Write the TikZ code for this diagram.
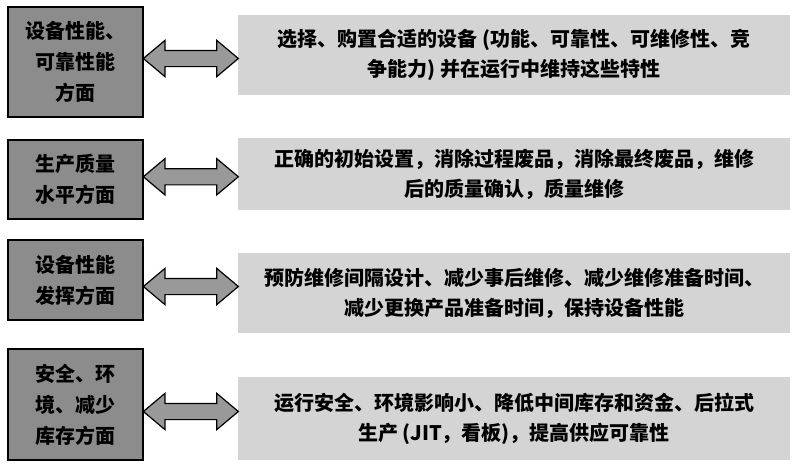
\documentclass[tikz,border=0pt]{standalone}
\usepackage{fontspec}
\setmainfont{Noto Sans CJK SC}
\usetikzlibrary{shapes.arrows}

\begin{document}
\begin{tikzpicture}[
  x=1pt, y=-1pt,
  aspect/.style={rectangle, draw, line width=1.8pt, fill=black!45, minimum width=135pt, align=center, font=\fontsize{20}{31}\selectfont\bfseries},
  measure/.style={rectangle, fill=black!17, minimum width=552pt, align=center, font=\fontsize{20}{30}\selectfont\bfseries},
  link/.style={double arrow, draw, line width=1.2pt, fill=black!40, inner xsep=0pt, inner ysep=7.5pt, minimum width=35pt, minimum height=95pt, double arrow head extend=10pt, double arrow tip angle=80}
]
\useasboundingbox (0,0) rectangle (800,471);

% Row 1 - equipment and reliability
\node[aspect, minimum height=110pt] (Equip) at (75.5,62) {设备性能、\\可靠性能\\方面};
\node[measure, minimum height=80pt] (EquipM) at (514,55) {选择、购置合适的设备 (功能、可靠性、可维修性、竞\\争能力) 并在运行中维持这些特性};

% Row 2 - quality
\node[aspect, minimum height=79pt] (Quality) at (75.5,179.5) {生产质量\\水平方面};
\node[measure, minimum height=72pt] (QualityM) at (514,174) {正确的初始设置，消除过程废品，消除最终废品，维修\\后的质量确认，质量维修};

% Row 3 - performance
\node[aspect, minimum height=80pt] (Perf) at (75.5,280) {设备性能\\发挥方面};
\node[measure, minimum height=80pt] (PerfM) at (514,293) {预防维修间隔设计、减少事后维修、减少维修准备时间、\\减少更换产品准备时间，保持设备性能};

% Row 4 - safety, environment, stock
\node[aspect, minimum height=111pt] (Safety) at (75.5,404.5) {安全、环\\境、减少\\库存方面};
\node[measure, minimum height=83pt] (SafetyM) at (514,418.5) {运行安全、环境影响小、降低中间库存和资金、后拉式\\生产 (JIT，看板)，提高供应可靠性};

% aspect <-> measures
\path (Equip.east) -- node[link] (EquipA) {} (EquipM.west);
\path (Quality.east) -- node[link] (QualityA) {} (QualityM.west);
\path (Perf.east) -- node[link] (PerfA) {} (PerfM.west);
\path (Safety.east) -- node[link] (SafetyA) {} (SafetyM.west);

\end{tikzpicture}
\end{document}
